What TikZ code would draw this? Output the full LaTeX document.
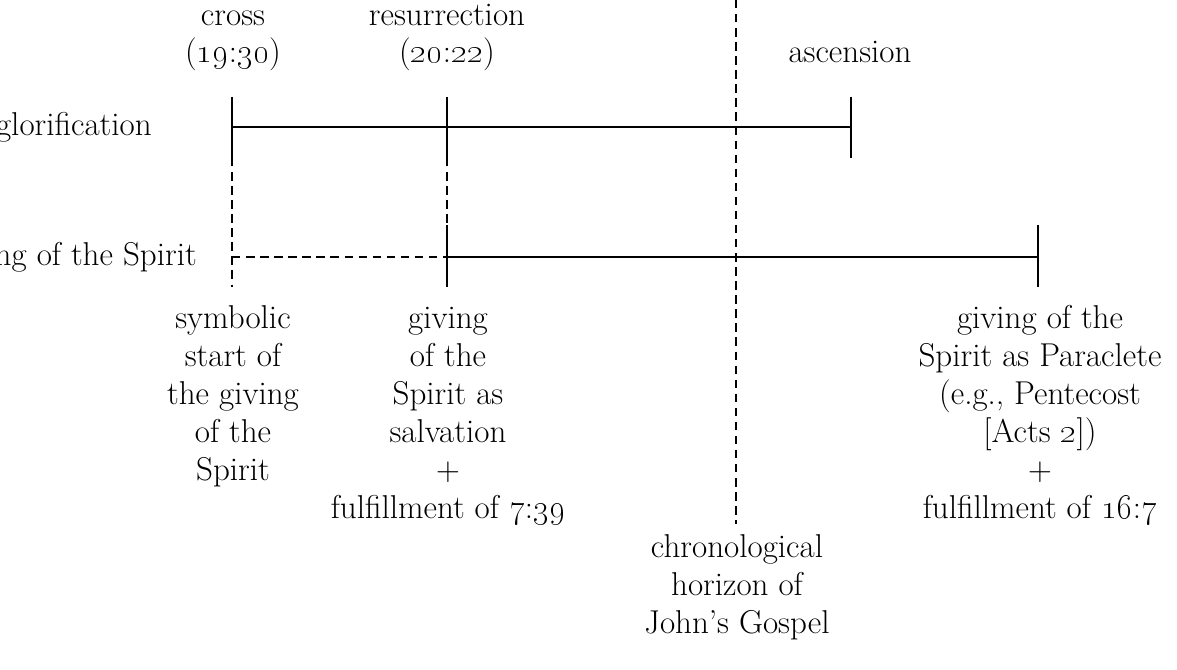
\documentclass[tikz,border=0pt]{standalone}
\usetikzlibrary{positioning}
\newcommand{\osn}[1]{\oldstylenums{#1}}

\begin{document}
\begin{tikzpicture}[x=0.025cm, y=-0.025cm,
        font=\fontsize{23.5}{27}\selectfont,
        timeline/.style = {line width=1.3pt},
        dashline/.style = {line width=1.3pt, dash pattern=on 6pt off 4pt},
        event/.style    = {align=center, inner sep=0pt, anchor=base},
        rowlabel/.style = {inner sep=0pt, anchor=base east}
    ]
    \clip (0,0) rectangle (1177,670);
    \useasboundingbox (0,0) rectangle (1177,670);

    % --- TICK POINTS ---
    \coordinate (crossTop) at (232, 97);  \coordinate (crossG) at (232,127);
    \coordinate (crossBot) at (232,158);  \coordinate (crossS) at (232,257);
    \coordinate (crossEnd) at (232,287);
    \coordinate (resTop)   at (447, 97);  \coordinate (resG)   at (447,127);
    \coordinate (resBot)   at (447,158);  \coordinate (resMid) at (447,225);
    \coordinate (resS)     at (447,257);  \coordinate (resEnd) at (447,287);
    \coordinate (ascTop)   at (851, 97);  \coordinate (ascG)   at (851,127);
    \coordinate (ascBot)   at (851,158);
    \coordinate (parTop)   at (1038,225); \coordinate (parS)   at (1038,257);
    \coordinate (parBot)   at (1038,287);
    \coordinate (horTop)   at (736,  0);  \coordinate (horBot) at (736,524);

    % --- GLORIFICATION ROW ---
    \node[rowlabel] (glory) at (152,135) {glorification};
    \draw[timeline] (crossG) -- (ascG);
    \draw[timeline] (crossTop) -- (crossBot);
    \draw[timeline] (resTop) -- (resBot);
    \draw[timeline] (ascTop) -- (ascBot);

    % --- SPIRIT ROW ---
    \node[rowlabel] (spirit) at (197,265) {giving of the Spirit};
    \draw[dashline] (crossS) -- (resS);
    \draw[timeline] (resS) -- (parS);
    \draw[dashline] (crossBot) -- (crossEnd);
    \draw[dashline] (resBot) -- (resMid);
    \draw[timeline] (resMid) -- (resEnd);
    \draw[timeline] (parTop) -- (parBot);

    % --- HORIZON ---
    \draw[dashline] (horTop) -- (horBot);

    % --- EVENT LABELS (anchored at last baseline) ---
    \node[event] (cross) at (233, 63) {cross\\(\osn{19}:\osn{30})};
    \node[event] (resur) at (447, 63) {resurrection\\(\osn{20}:\osn{22})};
    \node[event] (ascen) at (850, 63) {ascension};

    \node[event] (symb)  at (233,480) {symbolic\\start of\\the giving\\of the\\Spirit};
    \node[event] (salv)  at (448,518) {giving\\of the\\Spirit as\\salvation\\+\\fulfillment of \osn{7}:\osn{39}};
    \node[event] (para)  at (1040,518) {giving of the\\Spirit as Paraclete\\(e.g., Pentecost\\{[Acts \osn{2}]})\\+\\fulfillment of \osn{16}:\osn{7}};
    \node[event] (horiz) at (737,633) {chronological\\horizon of\\John’s Gospel};

\end{tikzpicture}
\end{document}
